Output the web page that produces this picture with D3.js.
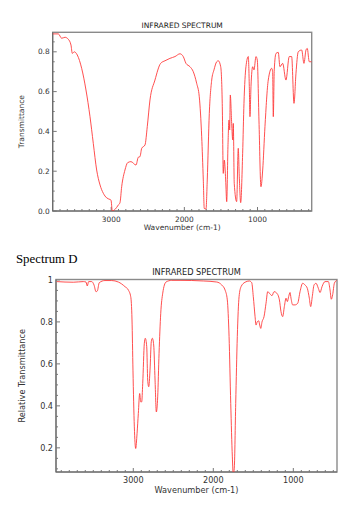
<!DOCTYPE html>
<html>
<head>
<meta charset="utf-8">
<script src="https://cdn.jsdelivr.net/npm/d3@7"></script>
<style>
  html, body { margin: 0; padding: 0; background: #fff; }
  svg { display: block; }
</style>
</head>
<body>
<svg id="chart" width="360" height="527"></svg>
<script>
// ---------- DATA ----------
const chartTitle = "INFRARED SPECTRUM";
const xAxisTitle = "Wavenumber (cm-1)";
const topYTitle = "Transmittance";
const bottomYTitle = "Relative Transmittance";
const bottomCaption = "Spectrum D";

const xTickValues = [3000, 2000, 1000];
const topYTickValues = [0, 0.2, 0.4, 0.6, 0.8];
const topYTickLabels = ["0.0", "0.2", "0.4", "0.6", "0.8"];
const bottomYTickValues = [0.2, 0.4, 0.6, 0.8, 1];
const bottomYTickLabels = ["0.2", "0.4", "0.6", "0.8", "1"];

// Top spectrum (wavenumber cm-1, transmittance)
const topWavenumber = [3800,3723,3677,3632,3587,3550,3532,3505,3464,3404,3345,3290,3245,3199,3153,3108,3062,3017,3003,2985,2948,2903,2880,2857,2812,2775,2730,2661,2630,2607,2583,2538,2507,2470,2402,2324,2265,2197,2128,2060,2015,1978,1923,1878,1832,1796,1763,1741,1728,1704,1687,1659,1626,1595,1558,1536,1503,1482,1468,1454,1435,1421,1404,1390,1380,1372,1353,1339,1331,1318,1285,1263,1249,1230,1203,1185,1158,1126,1112,1103,1089,1066,1048,1021,1003,980,953,929,898,853,806,793,784,771,747,716,693,656,611,566,533,501,474,443,396,365,337,320,292,259];
const topTransmittance = [0.89,0.89,0.868,0.873,0.863,0.834,0.792,0.80,0.784,0.717,0.608,0.474,0.34,0.206,0.131,0.089,0.066,0.058,0.055,0.0,0.008,0.03,0.042,0.122,0.206,0.243,0.248,0.231,0.27,0.273,0.315,0.332,0.424,0.558,0.658,0.742,0.755,0.767,0.776,0.79,0.776,0.742,0.725,0.70,0.642,0.574,0.373,0.156,0.013,0.01,0.156,0.49,0.658,0.709,0.75,0.755,0.725,0.541,0.189,0.256,0.156,0.047,0.323,0.457,0.407,0.583,0.44,0.357,0.44,0.139,0.047,0.315,0.172,0.042,0.29,0.541,0.725,0.776,0.626,0.474,0.626,0.725,0.709,0.776,0.759,0.457,0.122,0.206,0.424,0.658,0.717,0.70,0.474,0.709,0.792,0.797,0.725,0.742,0.658,0.776,0.776,0.541,0.692,0.80,0.809,0.742,0.809,0.817,0.75,0.75];

// Bottom spectrum (Spectrum D)
const bottomWavenumber = [3957,3750,3625,3591,3575,3558,3520,3491,3466,3450,3425,3354,3270,3187,3104,3062,3032,3016,3004,2987,2970,2953,2937,2920,2907,2895,2882,2862,2850,2832,2820,2807,2791,2775,2762,2745,2728,2712,2695,2678,2657,2632,2591,2520,2416,2125,1957,1895,1853,1825,1803,1782,1762,1750,1737,1720,1700,1678,1653,1603,1550,1520,1500,1478,1466,1450,1432,1420,1407,1391,1366,1341,1320,1291,1266,1241,1207,1174,1154,1133,1112,1091,1074,1058,1041,1029,1008,979,945,916,883,854,825,800,783,763,741,716,687,666,641,604,562,541,525,508,487,458];
const bottomTransmittance = [0.992,0.989,0.992,0.99,0.971,0.992,0.992,0.976,0.944,0.947,0.987,0.997,0.997,0.99,0.968,0.952,0.92,0.809,0.57,0.30,0.197,0.268,0.364,0.459,0.419,0.419,0.507,0.698,0.722,0.682,0.523,0.491,0.57,0.706,0.722,0.69,0.523,0.371,0.443,0.65,0.841,0.937,0.99,0.998,0.998,0.995,0.99,0.976,0.952,0.905,0.73,0.411,0.157,0.07,0.109,0.411,0.73,0.92,0.968,0.989,0.995,0.987,0.92,0.825,0.785,0.801,0.805,0.785,0.769,0.80,0.825,0.889,0.944,0.933,0.925,0.944,0.937,0.905,0.849,0.825,0.873,0.913,0.897,0.921,0.94,0.913,0.881,0.881,0.889,0.944,0.984,0.976,0.96,0.913,0.873,0.92,0.976,0.984,0.96,0.94,0.968,0.992,0.992,0.952,0.908,0.93,0.984,0.998];

// ---------- DRAW ----------
const svg = d3.select("#chart");
const font = "'DejaVu Sans', sans-serif";
const textColor = "#333";
const lineColor = "#ff3b3b";

function drawPanel(cfg) {
  const { left, right, top, bottom, xDomain, yDomain, wn, tr, yTicks, yLabels,
          fs, titleFs, yTitle, titleY, xLabelY, xTitleY, yTitleX, id } = cfg;
  const x = d3.scaleLinear().domain(xDomain).range([left, right]);
  const y = d3.scaleLinear().domain(yDomain).range([bottom, top]);
  const g = svg.append("g");

  // clip
  svg.append("defs").append("clipPath").attr("id", id)
    .append("rect").attr("x", left).attr("y", top)
    .attr("width", right - left).attr("height", bottom - top);

  // minor/major x ticks (inward)
  const xMinor = d3.range(Math.ceil(Math.min(...xDomain) / 100) * 100, Math.max(...xDomain), 100);
  g.selectAll(".xm").data(xMinor).join("line")
    .attr("x1", d => x(d)).attr("x2", d => x(d))
    .attr("y1", bottom).attr("y2", d => bottom - (d % 1000 === 0 ? 4 : 2))
    .attr("stroke", "#555").attr("stroke-width", 0.8);
  // y ticks
  const yMinor = d3.range(Math.ceil(yDomain[0] / 0.05 - 1e-6) * 0.05, yDomain[1] + 1e-6, 0.05);
  g.selectAll(".ym").data(yMinor).join("line")
    .attr("x1", left).attr("x2", d => left + (Math.abs(d / 0.2 - Math.round(d / 0.2)) < 1e-6 ? 4 : 2))
    .attr("y1", d => y(d)).attr("y2", d => y(d))
    .attr("stroke", "#555").attr("stroke-width", 0.8);

  // frame
  g.append("rect").attr("x", left).attr("y", top)
    .attr("width", right - left).attr("height", bottom - top)
    .attr("fill", "none").attr("stroke", "#8a8a8a").attr("stroke-width", 1.4);
  g.append("path").attr("d", `M${left},${top}V${bottom}H${right}`)
    .attr("fill", "none").attr("stroke", "#666").attr("stroke-width", 1);

  // x tick labels
  g.selectAll(".xl").data(xTickValues).join("text")
    .attr("x", d => x(d)).attr("y", xLabelY)
    .attr("text-anchor", "middle").attr("font-family", font).attr("font-size", fs)
    .attr("fill", textColor).text(d => d);
  // y tick labels
  g.selectAll(".yl").data(yTicks).join("text")
    .attr("x", left - 3).attr("y", d => y(d)).attr("dy", "0.35em")
    .attr("text-anchor", "end").attr("font-family", font).attr("font-size", fs)
    .attr("fill", textColor).text((d, i) => yLabels[i]);

  // titles
  g.append("text").attr("x", (left + right) / 2).attr("y", titleY)
    .attr("text-anchor", "middle").attr("font-family", font).attr("font-size", titleFs)
    .attr("fill", "#222").text(chartTitle);
  g.append("text").attr("x", (left + right) / 2).attr("y", xTitleY)
    .attr("text-anchor", "middle").attr("font-family", font).attr("font-size", titleFs)
    .attr("fill", textColor).text(xAxisTitle);
  g.append("text").attr("transform", `translate(${yTitleX},${(top + bottom) / 2}) rotate(-90)`)
    .attr("text-anchor", "middle").attr("font-family", font).attr("font-size", titleFs)
    .attr("fill", textColor).text(yTitle);

  // spectrum
  const pts = wn.map((w, i) => [w, tr[i]]);
  const line = d3.line().x(d => x(d[0])).y(d => y(d[1])).curve(d3.curveMonotoneX);
  g.append("path").datum(pts).attr("d", line)
    .attr("clip-path", `url(#${id})`)
    .attr("fill", "none").attr("stroke", lineColor).attr("stroke-width", 0.9)
    .attr("stroke-linejoin", "round");
}

drawPanel({
  id: "clipTop", left: 52.7, right: 311.7, top: 32.3, bottom: 211,
  xDomain: [3800, 259], yDomain: [0, 0.898],
  wn: topWavenumber, tr: topTransmittance,
  yTicks: topYTickValues, yLabels: topYTickLabels,
  fs: 7.4, titleFs: 7.5, yTitle: topYTitle,
  titleY: 28.3, xLabelY: 221.5, xTitleY: 230, yTitleX: 24.3
});

svg.append("text").attr("x", 16).attr("y", 263)
  .attr("font-family", "'Liberation Serif', 'Times New Roman', serif")
  .attr("font-size", 12.8).attr("fill", "#000").text(bottomCaption);

drawPanel({
  id: "clipBottom", left: 56, right: 337, top: 279.5, bottom: 472,
  xDomain: [3966, 454], yDomain: [0.085, 1.002],
  wn: bottomWavenumber, tr: bottomTransmittance,
  yTicks: bottomYTickValues, yLabels: bottomYTickLabels,
  fs: 8.1, titleFs: 8.2, yTitle: bottomYTitle,
  titleY: 274.7, xLabelY: 483, xTitleY: 492.5, yTitleX: 25
});
</script>
</body>
</html>
